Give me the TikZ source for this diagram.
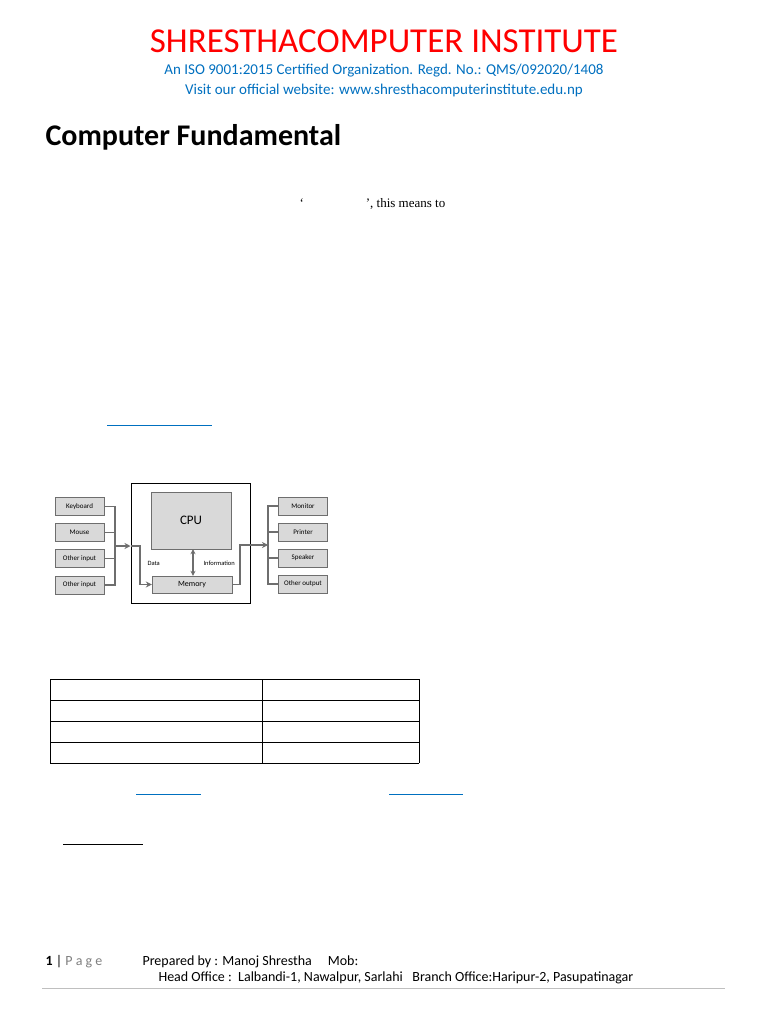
\documentclass[tikz,border=0pt]{standalone}
\usepackage{fontspec}
\setmainfont{Carlito}
\newfontfamily\serif{Liberation Serif}
\usetikzlibrary{arrows.meta}
\definecolor{linkblue}{RGB}{0,112,192}
\definecolor{boxgray}{RGB}{217,217,217}
\definecolor{linegray}{RGB}{110,110,110}
\tikzset{
  dev/.style={draw=linegray,fill=boxgray,minimum width=49pt,minimum height=18pt,inner sep=0pt,font=\fontsize{7}{8}\selectfont},
  bus/.style={draw=linegray,line width=1.2pt},
  arr/.style={bus,-{Stealth[length=6pt,width=6pt]}},
  cell/.style={draw,line width=0.6pt},
}
\begin{document}
\begin{tikzpicture}[x=1pt,y=-1pt]
\useasboundingbox (0,0) rectangle (768,1024);
\fill[white] (0,0) rectangle (768,1024);
% header
\node[text=red,font=\fontsize{35}{40}\selectfont] (title) at (384,41) {SHRESTHACOMPUTER INSTITUTE};
\node[text=linkblue,font=\fontsize{15}{17}\selectfont] (iso) at (384,71) {An ISO 9001:2015 Certified Organization. Regd. No.: QMS/092020/1408};
\node[text=linkblue,font=\fontsize{15}{17}\selectfont] (web) at (384,91) {Visit our official website: www.shresthacomputerinstitute.edu.np};
\node[anchor=west,font=\bfseries\fontsize{30}{34}\selectfont] (head) at (42,137) {Computer Fundamental};
\node[anchor=west,font=\serif\fontsize{13}{15}\selectfont] (frag) at (296,204) {‘\hspace{62pt}’, this means to};
% links
\draw[linkblue,line width=0.6pt] (107,425) -- (212,425);
\draw[linkblue,line width=0.6pt] (136,794) -- (201,794);
\draw[linkblue,line width=0.6pt] (389,794) -- (463,794);
\draw[line width=1pt] (63,844) -- (143,844);
% diagram
\node[draw=black,line width=1pt,minimum width=119pt,minimum height=120pt,inner sep=0pt] (sys) at (190.5,543) {};
\node[dev,minimum width=80pt,minimum height=57pt,font=\fontsize{13}{15}\selectfont] (cpu) at (191,520.5) {CPU};
\node[dev,minimum width=80pt,minimum height=17pt,font=\fontsize{8}{9}\selectfont] (mem) at (192,584.5) {Memory};
\node[dev] (kb) at (79.5,506.5) {Keyboard};
\node[dev] (ms) at (79.5,532.5) {Mouse};
\node[dev] (oi1) at (79.5,558.5) {Other input};
\node[dev] (oi2) at (79.5,585) {Other input};
\node[dev] (mon) at (303,506) {Monitor};
\node[dev] (prn) at (303,532) {Printer};
\node[dev] (spk) at (303,558) {Speaker};
\node[dev] (oo) at (303,584) {Other output};
\coordinate (ib) at (115,546);
\foreach \n in {kb,ms,oi1,oi2} \draw[bus] (\n.east) -| (ib);
\draw[bus] (kb.east) -| (115,585);
\draw[arr] (ib) -- (sys.west |- ib);
\draw[arr] (sys.west |- ib) -- (140,546) |- (mem.west);
\draw[bus,{Stealth[length=5pt,width=5pt]}-{Stealth[length=5pt,width=5pt]}] (cpu.south -| 193,0) -- (mem.north -| 193,0);
\node[font=\fontsize{6.5}{7}\selectfont,anchor=west] (dl) at (144,563) {Data};
\node[font=\fontsize{6.5}{7}\selectfont,anchor=west] (il) at (200,563) {Information};
\coordinate (ob) at (268,545);
\draw[arr] (mem.east) -- (240,584.5) |- (ob);
\foreach \n in {mon,prn,spk,oo} \draw[bus] (\n.west) -| (ob);
\draw[bus] (mon.west) -| (268,584);
% table
\foreach \y in {679,700,721,742,763} \draw[cell] (50,\y) -- (419,\y);
\foreach \x in {50,262,419} \draw[cell] (\x,679) -- (\x,763);
% footer
\node[anchor=west,font=\fontsize{14}{16}\selectfont] (pg) at (42,962) {\textbf{1} | \textcolor{gray}{P a g e}};
\node[anchor=west,font=\fontsize{14}{16}\selectfont] (prep) at (139,962) {Prepared by : Manoj Shrestha\hspace{16pt}Mob:};
\node[anchor=west,font=\fontsize{14}{16}\selectfont] (addr) at (155,978) {Head Office :\ \ Lalbandi-1, Nawalpur, Sarlahi\ \ \ Branch Office:Haripur-2, Pasupatinagar};
\draw[gray!50,line width=0.6pt] (42,988) -- (725,988);
\end{tikzpicture}
\end{document}
